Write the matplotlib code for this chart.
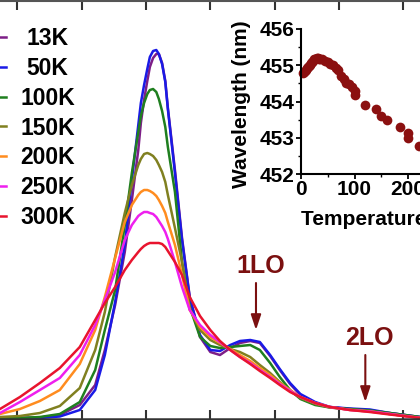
import numpy as np
import matplotlib
matplotlib.use("Agg")
import matplotlib.pyplot as plt
from matplotlib.lines import Line2D

plt.rcParams['font.family'] = ['Liberation Sans', 'DejaVu Sans']
plt.rcParams['font.weight'] = 'bold'

# ---- main PL spectra (wavelength in nm, intensity in a.u.) ----
wavelength = [427.3, 430.4, 433.5, 436.6, 439.7, 442.1, 443.6, 445.2, 446.7, 447.8,
              448.8, 449.2, 449.7, 450.2, 450.6, 451.1, 451.6, 452.0, 452.5, 453.0,
              453.4, 454.5, 455.6, 456.8, 458.4,
              460.0, 461.5, 463.1, 464.6, 466.2, 467.7, 469.3, 470.8, 472.4, 474.0,
              476.3, 478.6, 481.7, 484.8, 487.9, 492.6]

labels = ['13K', '50K', '100K', '150K', '200K', '250K', '300K']
colors = ['#7d1e87', '#1a1ae6', '#1f7f1f', '#808020', '#ff8c1f', '#ee1fee', '#e8142e']

pl_13K = [1, 1, 1.5, 4, 14, 34, 69, 114, 167, 219,
          269, 296, 319, 338, 352, 361, 365, 365, 356, 338,
          311, 249, 181, 122, 82,
          67, 64, 71, 76, 78, 76, 63, 49, 35, 24, 15, 12, 10, 8.5, 6, 2]
pl_50K = [1, 1, 1, 2.5, 9, 29, 64, 117, 174, 239,
          294, 316, 334, 350, 362, 368, 369, 365, 355, 337,
          310, 246, 179, 121, 84,
          69, 68, 74, 78, 79, 77, 64, 50, 36, 25, 17, 12, 10.5, 9.5, 6, 2]
pl_100K = [1, 1, 2, 5, 17, 49, 89, 129, 194, 246,
           287, 303, 316, 325, 329, 330, 327, 320, 308, 292,
           272, 227, 157, 112, 82,
           73, 71, 72, 73, 74, 69, 56, 42, 29, 20, 14, 11.5, 10, 8.5, 6, 2]
pl_150K = [2, 3, 6, 13, 31, 69, 107, 162, 206, 234,
           254, 260, 265, 266, 265, 263, 259, 254, 247, 237,
           224, 191, 157, 110, 89,
           79, 74, 70, 67, 62, 54, 46, 37, 28, 21, 15, 11.5, 9.5, 8, 5, 1.5]
pl_200K = [5, 10, 18, 29, 55, 89, 122, 161, 197, 214,
           224, 227, 229, 229, 228, 226, 223, 219, 213, 206,
           197, 174, 144, 109, 92,
           82, 76, 70, 64, 58, 51, 44, 36, 29, 22, 16, 12, 9, 7.5, 5, 1]
pl_250K = [6, 17, 29, 41, 64, 94, 119, 147, 179, 194,
           203, 205, 207, 207, 206, 205, 202, 198, 193, 187,
           180, 157, 132, 109, 94,
           84, 77, 69, 62, 56, 49, 42, 35, 28, 22, 16, 12, 9, 7.5, 5, 1]
pl_300K = [10, 22, 36, 51, 72, 99, 116, 132, 149, 159,
           167, 170, 173, 175, 176, 176, 176, 176, 175, 172,
           168, 157, 144, 122, 103,
           89, 78, 69, 62, 55, 48, 41, 34, 27, 22, 16, 12, 9, 7, 4.5, 1]
spectra = [pl_13K, pl_50K, pl_100K, pl_150K, pl_200K, pl_250K, pl_300K]

main_xticks = [430, 440, 450, 460, 470, 480, 490]

# ---- inset: peak wavelength vs temperature ----
temp_K = [3, 5, 7, 9, 11, 13, 15, 17, 19, 21, 23, 25, 27, 29, 31, 33, 35, 40, 45, 50,
          55, 60, 65, 70, 75, 80, 85, 90, 95, 100, 100, 120, 140, 150, 160, 185, 200, 200, 220]
peak_nm = [454.80, 454.82, 454.85, 454.88, 454.92, 454.95, 454.98, 455.02, 455.06, 455.10,
           455.13, 455.16, 455.18, 455.20, 455.20, 455.18, 455.17, 455.16, 455.12, 455.08,
           455.04, 455.00, 454.93, 454.87, 454.70, 454.62, 454.52, 454.47, 454.40, 454.30,
           454.18, 453.90, 453.80, 453.60, 453.50, 453.30, 453.12, 453.00, 452.78]

W, H = 420, 420
fig = plt.figure(figsize=(W / 100, H / 100), dpi=100)
ax = fig.add_axes([0, 1 / H, 1, 418 / H])

for y, c in zip(spectra, colors):
    ax.plot(wavelength, y, color=c, lw=1.8, solid_joinstyle='round')

ax.set_xlim(427.3, 492.6)
ax.set_ylim(0, 418)
ax.set_xticks(main_xticks)
ax.tick_params(axis='x', direction='in', length=6.5, width=1.5, top=True, bottom=True,
               labelbottom=False, color='#333333')
ax.tick_params(axis='y', left=False, labelleft=False)
ax.set_yticks([])
for s in ['left', 'right']:
    ax.spines[s].set_visible(False)
ax.spines['bottom'].set_linewidth(1.8)
ax.spines['bottom'].set_color('#333333')
ax.spines['top'].set_linewidth(1.5)
ax.spines['top'].set_color('#555555')

# annotations
lo_color = '#7b1010'
ax.text(467.9, 146, '1LO', color=lo_color, fontsize=18, fontweight='bold',
        ha='center', va='baseline')
ax.annotate('', xy=(467.1, 89), xytext=(467.1, 136),
            arrowprops=dict(arrowstyle='-|>,head_width=0.3,head_length=0.9',
                            color=lo_color, lw=1.5, shrinkA=0, shrinkB=0))
ax.text(484.7, 74, '2LO', color=lo_color, fontsize=18, fontweight='bold',
        ha='center', va='baseline')
ax.annotate('', xy=(484.1, 17), xytext=(484.1, 64),
            arrowprops=dict(arrowstyle='-|>,head_width=0.3,head_length=0.9',
                            color=lo_color, lw=1.5, shrinkA=0, shrinkB=0))

# manual legend (centered labels)
for i, (lab, c) in enumerate(zip(labels, colors)):
    yc = 37 + 29.8 * i
    fig.add_artist(Line2D([-0.01, 6 / W], [1 - yc / H, 1 - yc / H], color=c, lw=1.8,
                          transform=fig.transFigure))
    fig.text(47.5 / W, 1 - (yc + 8.3) / H, lab, ha='center', va='baseline',
             fontsize=16.5, fontweight='bold')

# inset
ax2 = fig.add_axes([301 / W, (H - 174) / H, 160.5 / W, 145 / H])
ax2.plot(temp_K, peak_nm, 'o', color='#8b1010', ms=7, mec='none', clip_on=False)
ax2.set_xlim(0, 300)
ax2.set_ylim(452, 456)
ax2.set_xticks([0, 100, 200, 300])
ax2.set_xticks([50, 150, 250], minor=True)
ax2.set_yticks([452, 453, 454, 455, 456])
ax2.set_yticks([452.5, 453.5, 454.5, 455.5], minor=True)
for s in ['top', 'right']:
    ax2.spines[s].set_visible(False)
for s in ['left', 'bottom']:
    ax2.spines[s].set_linewidth(1.5)
ax2.tick_params(which='major', direction='out', length=3.5, width=1.3, pad=1, labelsize=15)
ax2.tick_params(which='minor', direction='out', length=2, width=1.0)
for t in ax2.get_xticklabels() + ax2.get_yticklabels():
    t.set_fontweight('bold')
ax2.set_ylabel('Wavelength (nm)', fontsize=15, fontweight='bold')
ax2.yaxis.set_label_coords(-0.31, 0.48)
ax2.set_xlabel('Temperature (K)', fontsize=15, fontweight='bold')
ax2.xaxis.set_label_coords(0.5, -0.25)

fig.savefig('out.png', dpi=100)
